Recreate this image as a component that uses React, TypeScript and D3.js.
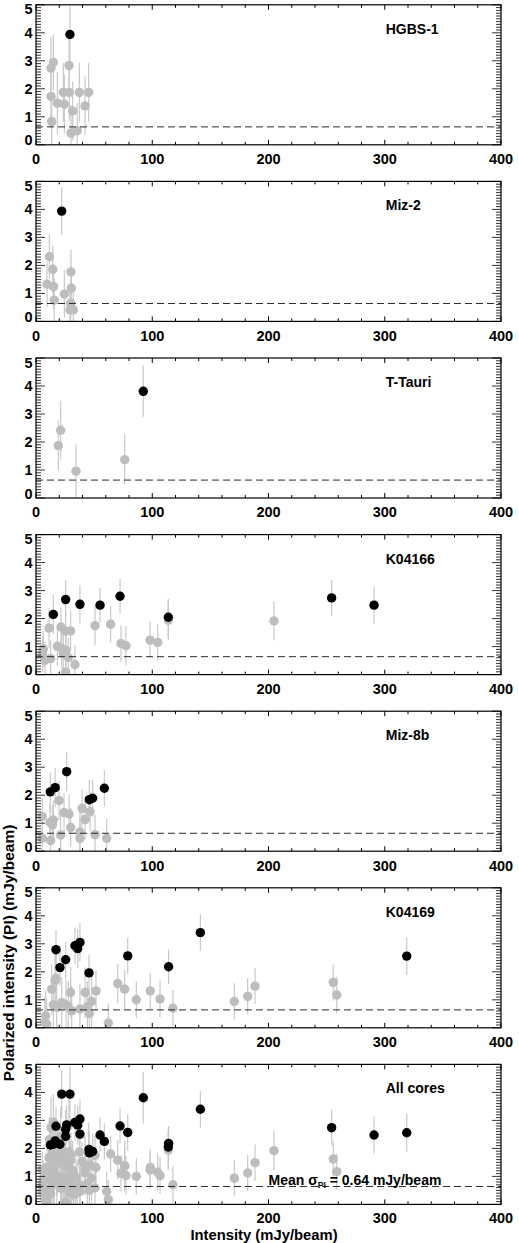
import * as d3 from 'd3';

// [intensity (mJy/beam), PI (mJy/beam), sigma PI]
const hgbs1Black = [[29.2, 3.94, 1.0]];
const hgbs1Gray = [
  [12.9, 2.74, 1.1], [14.9, 2.94, 1.0], [12.9, 1.73, 1.1], [13.5, 0.83, 1.0],
  [18.4, 1.49, 1.1], [23.5, 1.87, 1.05], [24.4, 1.45, 1.05], [28.4, 2.83, 1.0],
  [28.7, 1.87, 1.0], [31.5, 1.21, 1.05], [30.1, 0.42, 1.0], [35.5, 0.5, 1.0],
  [37.3, 1.87, 1.05], [42.2, 1.39, 1.05], [45.3, 1.87, 1.05]
];

const miz2Black = [[22.1, 3.94, 0.85]];
const miz2Gray = [
  [11.5, 2.31, 0.8], [14.4, 1.86, 0.85], [9.5, 1.33, 0.8], [15.0, 1.24, 0.8],
  [15.7, 0.76, 0.8], [24.4, 0.98, 0.85], [30.1, 1.77, 0.8], [30.4, 1.19, 0.8],
  [29.8, 0.65, 0.8], [29.2, 0.41, 0.8], [32.1, 0.41, 0.8]
];

const tTauriBlack = [[92.3, 3.81, 0.92]];
const tTauriGray = [[19.2, 1.87, 0.9], [21.2, 2.42, 1.05], [34.4, 0.96, 0.95], [76.3, 1.37, 0.9]];

const k04166Black = [
  [14.9, 2.15, 0.7], [25.5, 2.68, 0.7], [37.8, 2.51, 0.68], [55.1, 2.48, 0.62],
  [72.3, 2.8, 0.62], [113.8, 2.05, 0.65], [254.3, 2.74, 0.64], [290.8, 2.48, 0.66]
];
const k04166Gray = [
  [11.2, 1.66, 0.7], [21.5, 1.7, 0.7], [25.5, 1.55, 0.7], [29.8, 1.56, 0.7],
  [18.4, 1.01, 0.7], [22.1, 0.93, 0.7], [25.8, 0.87, 0.7], [23.5, 0.75, 0.7],
  [27.8, 0.61, 0.7], [33.5, 0.36, 0.7], [25.5, 0.09, 0.7], [6.3, 0.92, 0.65],
  [5.7, 0.75, 0.65], [7.7, 0.51, 0.65], [12.6, 0.57, 0.65], [50.8, 1.75, 0.7],
  [64.2, 1.8, 0.65], [73.1, 1.11, 0.65], [77.4, 1.03, 0.7], [98.1, 1.23, 0.65],
  [104.7, 1.15, 0.65], [113.8, 1.94, 0.7], [204.7, 1.92, 0.7]
];

const miz8bBlack = [
  [12.3, 2.12, 0.7], [16.5, 2.27, 0.7], [26.4, 2.84, 0.7],
  [45.9, 1.84, 0.7], [48.7, 1.89, 0.65], [58.8, 2.25, 0.65]
];
const miz8bGray = [
  [5.4, 1.24, 0.65], [5.4, 0.46, 0.65], [12.0, 1.03, 0.7], [14.9, 1.12, 0.7],
  [14.1, 0.94, 0.7], [12.6, 0.38, 0.7], [19.8, 1.81, 0.7], [21.2, 0.58, 0.7],
  [24.1, 1.38, 0.7], [28.4, 1.33, 0.7], [29.8, 0.85, 0.7], [37.8, 0.68, 0.7],
  [37.8, 0.46, 0.7], [39.6, 1.53, 0.7], [42.2, 1.13, 0.7], [46.5, 1.41, 0.7],
  [50.8, 0.59, 0.7], [60.8, 0.46, 0.7]
];

const k04169Black = [
  [17.2, 2.79, 0.7], [20.6, 2.15, 0.65], [25.5, 2.43, 0.65], [33.5, 2.93, 0.65],
  [35.9, 2.83, 0.7], [37.8, 3.05, 0.7], [45.6, 1.96, 0.65], [78.9, 2.57, 0.65],
  [114.1, 2.18, 0.62], [141.4, 3.4, 0.65], [318.9, 2.56, 0.68]
];
const k04169Gray = [
  [7.7, 0.19, 0.9], [8.3, 0.43, 0.9], [9.2, 0.13, 0.9], [13.5, 1.38, 0.9],
  [16.3, 1.68, 0.95], [17.2, 1.77, 0.9], [14.9, 0.82, 0.9], [17.8, 0.73, 0.9],
  [22.1, 0.9, 0.9], [25.8, 0.82, 0.9], [29.8, 1.26, 0.9], [27.8, 0.75, 0.9],
  [30.7, 0.61, 0.9], [37.8, 0.67, 0.9], [42.2, 1.26, 0.9], [44.2, 0.75, 0.9],
  [45.9, 0.51, 0.9], [47.9, 0.94, 0.9], [51.6, 1.32, 0.75], [62.2, 0.17, 0.7],
  [70.3, 1.58, 0.7], [76.3, 1.38, 0.7], [86.3, 1.0, 0.65], [98.3, 1.32, 0.65],
  [106.7, 1.03, 0.65], [117.8, 0.7, 0.65], [170.6, 0.94, 0.65], [182.1, 1.12, 0.65],
  [188.4, 1.49, 0.65], [255.7, 1.62, 0.65], [258.7, 1.17, 0.65]
];

const coreNames = ['HGBS-1', 'Miz-2', 'T-Tauri', 'K04166', 'Miz-8b', 'K04169', 'All cores'];
const blackSets = [hgbs1Black, miz2Black, tTauriBlack, k04166Black, miz8bBlack, k04169Black];
const graySets = [hgbs1Gray, miz2Gray, tTauriGray, k04166Gray, miz8bGray, k04169Gray];

const xTickValues = [0, 100, 200, 300, 400];
const yTickValues = [0, 1, 2, 3, 4, 5];
const meanSigma = 0.64;

const W = 519;
const H = 1243;
const LEFT = 36;
const RIGHT = 501;
const TOP0 = 4.8;
const PITCH = 176.6;
const PH = 140;
const FONT = "'Liberation Sans', Arial, Helvetica, sans-serif";

type Pt = number[];

function Panel({ k, name, black, gray }: { k: number; name: string; black: Pt[]; gray: Pt[] }) {
  const top = TOP0 + k * PITCH;
  const bottom = top + PH;
  const x = d3.scaleLinear().domain([0, 400]).range([LEFT, RIGHT]);
  const y = d3.scaleLinear().domain([0, 5]).range([bottom, top]);
  const xMinor = d3.range(0, 401, 20);
  const yMinor = d3.range(0, 51).map(v => v / 10);
  const all = [...gray, ...black];
  const clipId = `clip-${k}`;
  const last = k === 6;

  return (
    <g>
      <clipPath id={clipId}>
        <rect x={LEFT} y={top} width={RIGHT - LEFT} height={PH} />
      </clipPath>
      <g clipPath={`url(#${clipId})`}>
        {all.map((d, i) => (
          <line key={`e${i}`} x1={x(d[0])} x2={x(d[0])} y1={y(d[1] - d[2])} y2={y(d[1] + d[2])}
            stroke="#c9c9c9" strokeWidth={1.2} />
        ))}
        {gray.map((d, i) => (
          <circle key={`g${i}`} cx={x(d[0])} cy={y(d[1])} r={4.7} fill="#bdbdbd" />
        ))}
        {black.map((d, i) => (
          <circle key={`b${i}`} cx={x(d[0])} cy={y(d[1])} r={4.7} fill="#000" />
        ))}
      </g>
      <line x1={LEFT} x2={RIGHT} y1={y(meanSigma)} y2={y(meanSigma)}
        stroke="#2a2a2a" strokeWidth={1} strokeDasharray="7 4" />
      {/* x ticks, bottom and top */}
      {xMinor.map(v => {
        const len = v % 100 === 0 ? 5 : 3;
        return (
          <g key={`xt${v}`} stroke="#000" strokeWidth={1}>
            <line x1={x(v)} x2={x(v)} y1={bottom} y2={bottom - len} />
            <line x1={x(v)} x2={x(v)} y1={top} y2={top + len} />
          </g>
        );
      })}
      {/* y ticks, left and right */}
      {yMinor.map(v => {
        const len = Math.abs(v - Math.round(v)) < 1e-6 ? 9 : 5;
        return (
          <g key={`yt${v}`} stroke="#000" strokeWidth={0.8}>
            <line x1={LEFT} x2={LEFT + len} y1={y(v)} y2={y(v)} />
            <line x1={RIGHT} x2={RIGHT - len} y1={y(v)} y2={y(v)} />
          </g>
        );
      })}
      <rect x={LEFT} y={top} width={RIGHT - LEFT} height={PH} fill="none" stroke="#000" strokeWidth={1.2} />
      {xTickValues.map(v => (
        <text key={`xl${v}`} x={x(v)} y={bottom + (last ? 18.5 : 19.3)} textAnchor="middle"
          fontFamily={FONT} fontWeight="bold" fontSize={14.5}>{v}</text>
      ))}
      {yTickValues.map(v => (
        <text key={`yl${v}`} x={32.5} y={y(v) + (v === 0 ? -4.5 : v === 5 ? 4.5 : 0)}
          textAnchor="end" dominantBaseline="central"
          fontFamily={FONT} fontWeight="bold" fontSize={14.5}>{v}</text>
      ))}
      <text x={x(300) + 1} y={top + 29} fontFamily={FONT} fontWeight="bold" fontSize={14}>{name}</text>
      {last && (
        <text x={x(200)} y={y(meanSigma) - 1.5} fontFamily={FONT} fontWeight="bold" fontSize={14}>
          Mean σ<tspan fontSize={8.5} dy={3}>PI</tspan><tspan dy={-3}> = 0.64 mJy/beam</tspan>
        </text>
      )}
    </g>
  );
}

export default function App() {
  const allBlack = blackSets.flat();
  const allGray = graySets.flat();
  return (
    <svg width={W} height={H} viewBox={`0 0 ${W} ${H}`}
      style={{ position: 'absolute', left: 0, top: 0, background: '#fff' }}>
      <rect width={W} height={H} fill="#fff" />
      {coreNames.map((name, k) => (
        <Panel key={name} k={k} name={name}
          black={k < 6 ? blackSets[k] : allBlack}
          gray={k < 6 ? graySets[k] : allGray} />
      ))}
      <text transform={`translate(13.5,953) rotate(-90)`} textAnchor="middle"
        fontFamily={FONT} fontWeight="bold" fontSize={15.5}>Polarized intensity (PI) (mJy/beam)</text>
      <text x={264} y={1240} textAnchor="middle" fontFamily={FONT} fontWeight="bold" fontSize={14.8}>
        Intensity (mJy/beam)
      </text>
    </svg>
  );
}
